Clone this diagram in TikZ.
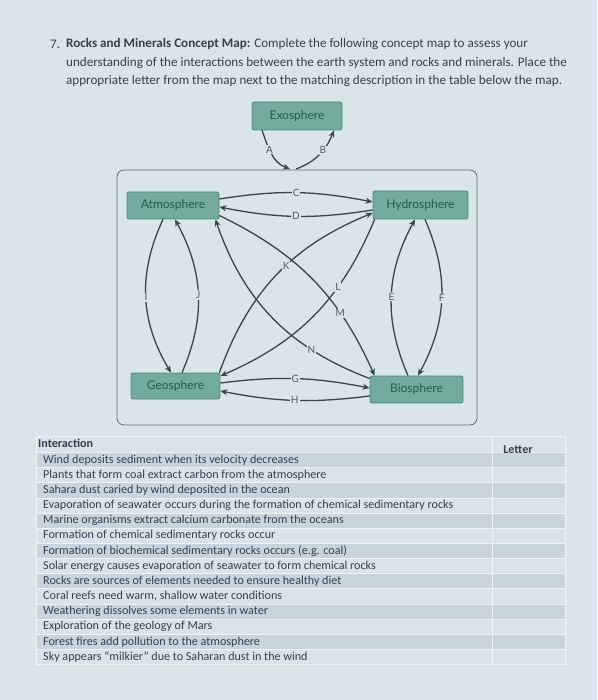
\documentclass[tikz,border=0pt]{standalone}
\usepackage{fontspec}
\setmainfont{Carlito}
\newfontfamily\nodefont{Lato}
\usetikzlibrary{arrows.meta,calc}
\definecolor{bg}{HTML}{DAE5EA}
\definecolor{nodefill}{HTML}{72AA9C}
\definecolor{nodeborder}{HTML}{4E8A7C}
\definecolor{nodetext}{HTML}{2D5A50}
\definecolor{arrowcol}{HTML}{3A454B}
\definecolor{titletext}{HTML}{34404F}
\definecolor{rowdark}{HTML}{C8D5DD}
\definecolor{rowlight}{HTML}{D9E3E9}
\definecolor{gridcol}{HTML}{EEF3F5}
\definecolor{lbltext}{HTML}{4F5A64}
\tikzset{
  sphere/.style={draw=nodeborder, fill=nodefill, rounded corners=2pt, line width=0.8pt,
    text=nodetext, font=\nodefont\fontsize{12}{14}\selectfont, inner sep=0pt},
  arr/.style={draw=arrowcol, line width=1.3pt, -{Stealth[length=7pt,width=6pt]}},
  lbl/.style={fill=bg, inner sep=1pt, text=lbltext, font=\nodefont\fontsize{10}{10}\selectfont},
  ttl/.style={anchor=west, text=titletext, font=\fontsize{13.1}{15}\selectfont, inner sep=0pt},
  cell/.style={anchor=west, text=titletext, font=\fontsize{12.1}{14}\selectfont, inner sep=0pt}
}
\begin{document}
\begin{tikzpicture}[x=1pt,y=-1pt]
\fill[bg] (0,0) rectangle (597,700);
\useasboundingbox (0,0) rectangle (597,700);

% title
\node[ttl] (num) at (50,44) {7.};
\node[ttl] (t1) at (66,44) {\textbf{Rocks and Minerals Concept Map:} Complete the following concept map to assess your};
\node[ttl] (t2) at (66,63) {understanding of the interactions between the earth system and rocks and minerals. Place the};
\node[ttl] (t3) at (66,81) {appropriate letter from the map next to the matching description in the table below the map.};

% container
\draw[draw=arrowcol!80, line width=0.8pt, rounded corners=7pt] (117,170) rectangle (477,425);
\coordinate (ctopa) at (290,169);
\coordinate (ctopb) at (296,169);

% spheres
\node[sphere, minimum width=90pt, minimum height=28pt] (exo) at (297,116) {Exosphere};
\node[sphere, minimum width=92pt, minimum height=27pt] (atm) at (173,205.5) {Atmosphere};
\node[sphere, minimum width=95pt, minimum height=28pt] (hyd) at (420.5,205) {Hydrosphere};
\node[sphere, minimum width=89pt, minimum height=26pt] (geo) at (175.5,386) {Geosphere};
\node[sphere, minimum width=93pt, minimum height=27pt] (bio) at (416.5,389.5) {Biosphere};

% A, B
\draw[arr] ([xshift=-35pt]exo.south) to[out=-70,in=160] node[lbl,pos=0.4]{A} (ctopa);
\draw[arr] (ctopb) to[out=20,in=-112] node[lbl,pos=0.6]{B} ([xshift=37pt]exo.south);

% C, D
\draw[arr] ([yshift=6.5pt]atm.east) to[bend left=10] node[lbl]{C} ([yshift=3pt]hyd.west);
\draw[arr] ([yshift=-5pt]hyd.west) to[bend left=10] node[lbl]{D} ([yshift=-1.5pt]atm.east);

% I, J
\draw[arr] ([xshift=-10pt]atm.south) to[bend right=28] node[lbl]{I} ([xshift=-4.5pt]geo.north);
\draw[arr] ([xshift=6.5pt]geo.north) to[bend right=26] node[lbl]{J} ([xshift=2pt]atm.south);

% E, F
\draw[arr] ([xshift=-8.5pt]bio.north) to[bend left=26] node[lbl]{E} ([xshift=-5.5pt]hyd.south);
\draw[arr] ([xshift=4.5pt]hyd.south) to[bend left=26] node[lbl]{F} ([xshift=1.5pt]bio.north);

% K, L
\draw[arr] ([xshift=-1pt]geo.north east) to[bend left=24] node[lbl,pos=0.56]{K} ([yshift=-8pt]hyd.west);
\draw[arr] ([xshift=2pt]hyd.south west) to[bend left=22] node[lbl,pos=0.33]{L} ([yshift=10pt]geo.east);

% M, N
\draw[arr] ([yshift=-10pt]atm.east) to[bend left=20] node[lbl,pos=0.7]{M} ([xshift=5pt]bio.north west);
\draw[arr] ([yshift=11pt]bio.west) to[bend left=25] node[lbl,pos=0.27]{N} ([xshift=-4pt]atm.south east);

% G, H
\draw[arr] ([yshift=3pt]geo.east) to[bend left=9] node[lbl]{G} ([yshift=1.5pt]bio.west);
\draw[arr] ([yshift=-6.5pt]bio.west) to[bend left=9] node[lbl]{H} ([yshift=-5pt]geo.east);

% table
\fill[rowlight] (36,436) rectangle (565,452.4);
\foreach \t [count=\i from 0] in {
  {Wind deposits sediment when its velocity decreases},
  {Plants that form coal extract carbon from the atmosphere},
  {Sahara dust caried by wind deposited in the ocean},
  {Evaporation of seawater occurs during the formation of chemical sedimentary rocks},
  {Marine organisms extract calcium carbonate from the oceans},
  {Formation of chemical sedimentary rocks occur},
  {Formation of biochemical sedimentary rocks occurs (e.g. coal)},
  {Solar energy causes evaporation of seawater to form chemical rocks},
  {Rocks are sources of elements needed to ensure healthy diet},
  {Coral reefs need warm, shallow water conditions},
  {Weathering dissolves some elements in water},
  {Exploration of the geology of Mars},
  {Forest fires add pollution to the atmosphere},
  {Sky appears ``milkier'' due to Saharan dust in the wind}} {
  \pgfmathsetmacro{\ytop}{452.4+15.15*\i}
  \pgfmathsetmacro{\ybot}{452.4+15.15*(\i+1)}
  \pgfmathsetmacro{\ymid}{452.4+15.15*\i+7.6}
  \pgfmathparse{mod(\i,2)==0 ? 1 : 0}
  \ifnum\pgfmathresult=1
    \fill[rowdark] (36,\ytop) rectangle (565,\ybot);
  \else
    \fill[rowlight] (36,\ytop) rectangle (565,\ybot);
  \fi
  \node[cell] (row\i) at (43,\ymid) {\t};
  \draw[gridcol, line width=0.7pt] (36,\ytop) -- (565,\ytop);
}
\draw[gridcol, line width=0.7pt] (36,436) rectangle (565,664.5);
\draw[gridcol, line width=0.7pt] (492,436) -- (492,664.5);
\node[cell, font=\bfseries\fontsize{12.1}{14}\selectfont] (hdr1) at (38,443) {Interaction};
\node[cell, font=\bfseries\fontsize{12.1}{14}\selectfont, anchor=center] (hdr2) at (518,450) {Letter};
\end{tikzpicture}
\end{document}
